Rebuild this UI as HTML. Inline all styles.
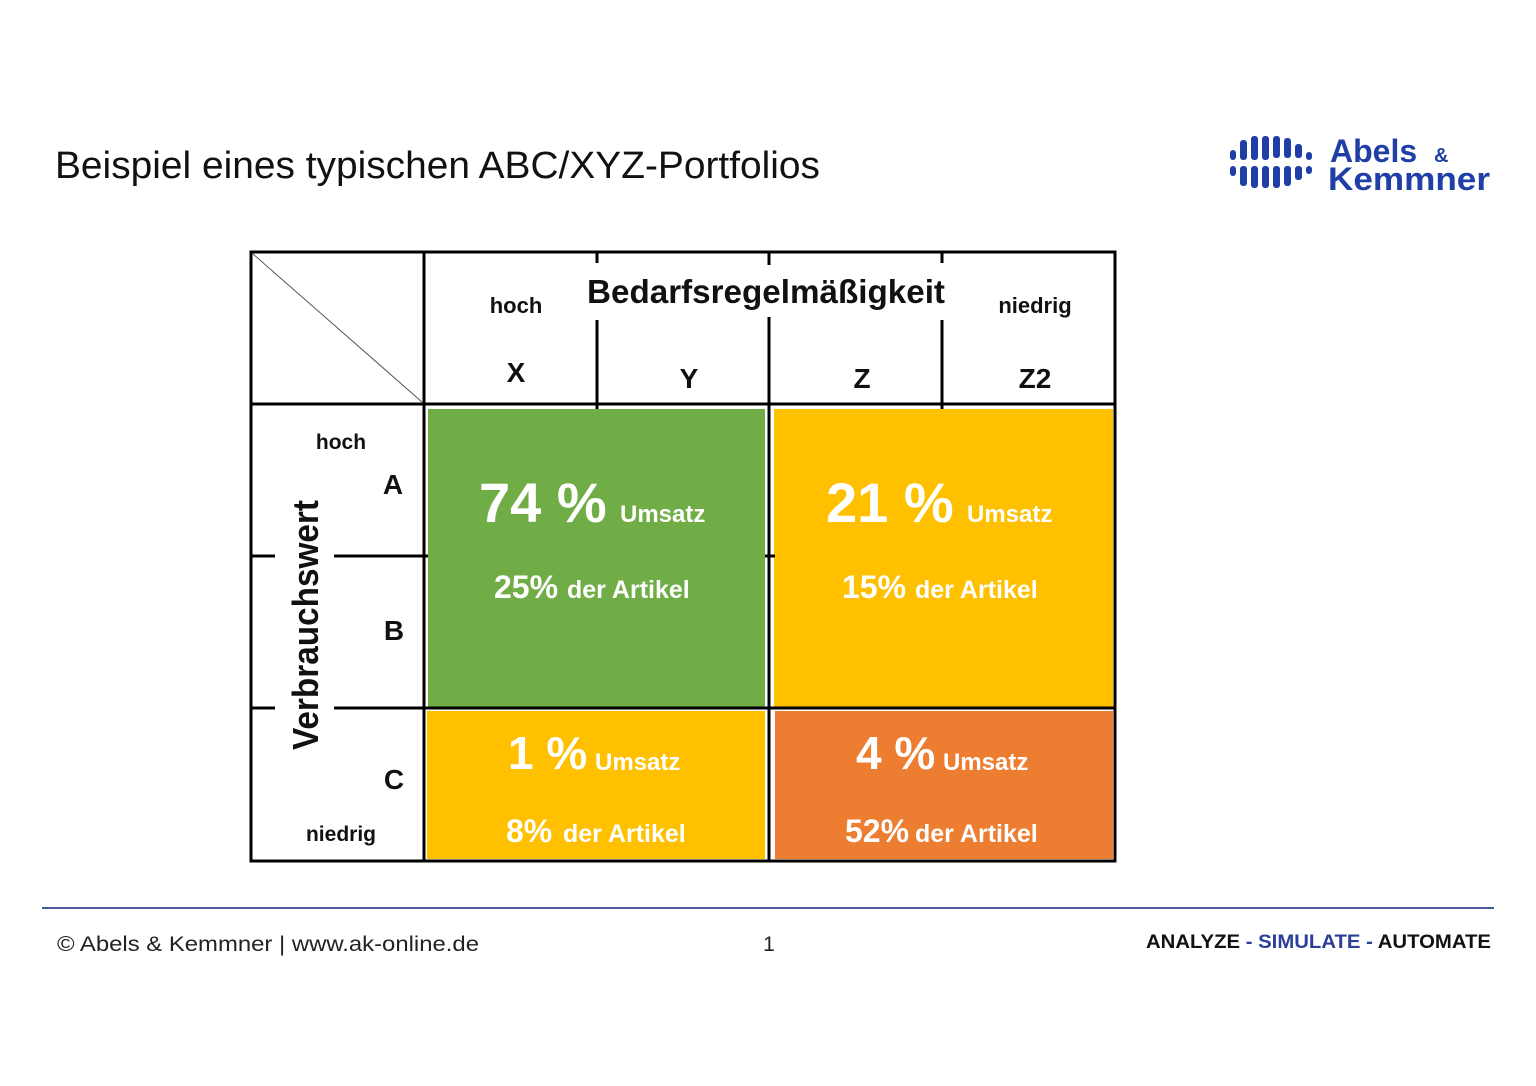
<!DOCTYPE html>
<html><head><meta charset="utf-8"><style>
html,body{margin:0;padding:0;background:#fff;}
svg{display:block;}
text{font-family:"Liberation Sans",sans-serif;}
</style></head><body>
<svg width="1536" height="1086" viewBox="0 0 1536 1086" xmlns="http://www.w3.org/2000/svg">
<rect width="1536" height="1086" fill="#fff"/>
<text x="55" y="178" font-size="38" fill="#111" textLength="765" lengthAdjust="spacingAndGlyphs">Beispiel eines typischen ABC/XYZ-Portfolios</text>
<!-- logo -->
<g fill="#1f3fa6">
<g transform="translate(1230,136)">
<rect x="0" y="14" width="6" height="10" rx="3"/><rect x="0" y="30" width="6" height="10" rx="3"/>
<rect x="10" y="4" width="7" height="20" rx="3"/><rect x="10" y="30" width="7" height="20" rx="3"/>
<rect x="21" y="0" width="7" height="24" rx="3"/><rect x="21" y="30" width="7" height="22" rx="3"/>
<rect x="32" y="0" width="7" height="24" rx="3"/><rect x="32" y="30" width="7" height="22" rx="3"/>
<rect x="43" y="0" width="7" height="22" rx="3"/><rect x="43" y="30" width="7" height="22" rx="3"/>
<rect x="54" y="2" width="7" height="20" rx="3"/><rect x="54" y="30" width="7" height="20" rx="3"/>
<rect x="65" y="8" width="7" height="14" rx="3"/><rect x="65" y="30" width="7" height="14" rx="3"/>
<rect x="76" y="16" width="6" height="8" rx="3"/><rect x="76" y="30" width="6" height="8" rx="3"/>
</g>
<text x="1330" y="162" font-size="32" font-weight="bold">Abels</text>
<text x="1434" y="162" font-size="20" font-weight="bold">&amp;</text>
<text x="1328" y="190" font-size="32" font-weight="bold" textLength="162" lengthAdjust="spacingAndGlyphs">Kemmner</text>
</g>
<!-- colored cells -->
<rect x="428" y="409" width="337" height="298" fill="#70ad47"/>
<rect x="774" y="409" width="339" height="298" fill="#ffc000"/>
<rect x="427" y="711" width="338" height="148" fill="#ffc000"/>
<rect x="775" y="711" width="338" height="148" fill="#ed7d31"/>
<!-- grid -->
<g stroke="#000" stroke-width="3" fill="none">
<rect x="251" y="252" width="864" height="609"/>
<line x1="424" y1="252" x2="424" y2="861"/>
<line x1="251" y1="404" x2="1115" y2="404"/>
<line x1="424" y1="708" x2="1115" y2="708"/>
<line x1="251" y1="556" x2="275" y2="556"/>
<line x1="334" y1="556" x2="428" y2="556"/>
<line x1="251" y1="708" x2="275" y2="708"/>
<line x1="334" y1="708" x2="424" y2="708"/>
<line x1="769" y1="252" x2="769" y2="861"/>
<line x1="597" y1="252" x2="597" y2="263"/><line x1="597" y1="320" x2="597" y2="409"/>
<line x1="769" y1="252" x2="769" y2="263"/>
<line x1="942" y1="252" x2="942" y2="263"/><line x1="942" y1="320" x2="942" y2="409"/>
<line x1="765" y1="556" x2="775" y2="556"/>
</g>
<rect x="582" y="265" width="370" height="52" fill="#fff"/>
<line x1="769" y1="317" x2="769" y2="404" stroke="#000" stroke-width="3"/>
<line x1="253" y1="254" x2="422" y2="402" stroke="#555" stroke-width="1"/>
<!-- header text -->
<g font-weight="bold" fill="#111" text-anchor="middle">
<text x="516" y="313" font-size="22">hoch</text>
<text x="766" y="303" font-size="33" textLength="358" lengthAdjust="spacingAndGlyphs">Bedarfsregelmäßigkeit</text>
<text x="1035" y="313" font-size="22">niedrig</text>
<text x="516" y="382" font-size="28">X</text>
<text x="689" y="388" font-size="28">Y</text>
<text x="862" y="388" font-size="28">Z</text>
<text x="1035" y="388" font-size="28">Z2</text>
<text x="341" y="449" font-size="21">hoch</text>
<text x="341" y="841" font-size="21">niedrig</text>
<text x="393" y="494" font-size="28">A</text>
<text x="394" y="640" font-size="28">B</text>
<text x="394" y="789" font-size="28">C</text>
<text transform="translate(318,625) rotate(-90)" font-size="36" textLength="250" lengthAdjust="spacingAndGlyphs">Verbrauchswert</text>
</g>
<!-- cell text -->
<g font-weight="bold" fill="#fff">
<text x="479" y="522" font-size="56">74 %</text><text x="620" y="522" font-size="24">Umsatz</text>
<text x="494" y="598" font-size="32">25%</text><text x="567" y="598" font-size="25">der Artikel</text>
<text x="826" y="522" font-size="56">21 %</text><text x="967" y="522" font-size="24">Umsatz</text>
<text x="842" y="598" font-size="32">15%</text><text x="915" y="598" font-size="25">der Artikel</text>
<text x="508" y="769" font-size="46">1 %</text><text x="595" y="770" font-size="24">Umsatz</text>
<text x="506" y="842" font-size="32">8%</text><text x="563" y="842" font-size="25">der Artikel</text>
<text x="856" y="769" font-size="46">4 %</text><text x="943" y="770" font-size="24">Umsatz</text>
<text x="845" y="842" font-size="32">52%</text><text x="915" y="842" font-size="25">der Artikel</text>
</g>
<!-- footer -->
<line x1="42" y1="908" x2="1494" y2="908" stroke="#4a5a9a" stroke-width="2"/>
<text x="57" y="951" font-size="21" fill="#222" textLength="422" lengthAdjust="spacingAndGlyphs">© Abels &amp; Kemmner | www.ak-online.de</text>
<text x="769" y="951" font-size="21" fill="#222" text-anchor="middle">1</text>
<text x="1146" y="948" font-size="19" font-weight="bold" fill="#111" textLength="345" lengthAdjust="spacingAndGlyphs">ANALYZE <tspan fill="#2b3f99">- SIMULATE -</tspan> AUTOMATE</text>
</svg>
</body></html>
